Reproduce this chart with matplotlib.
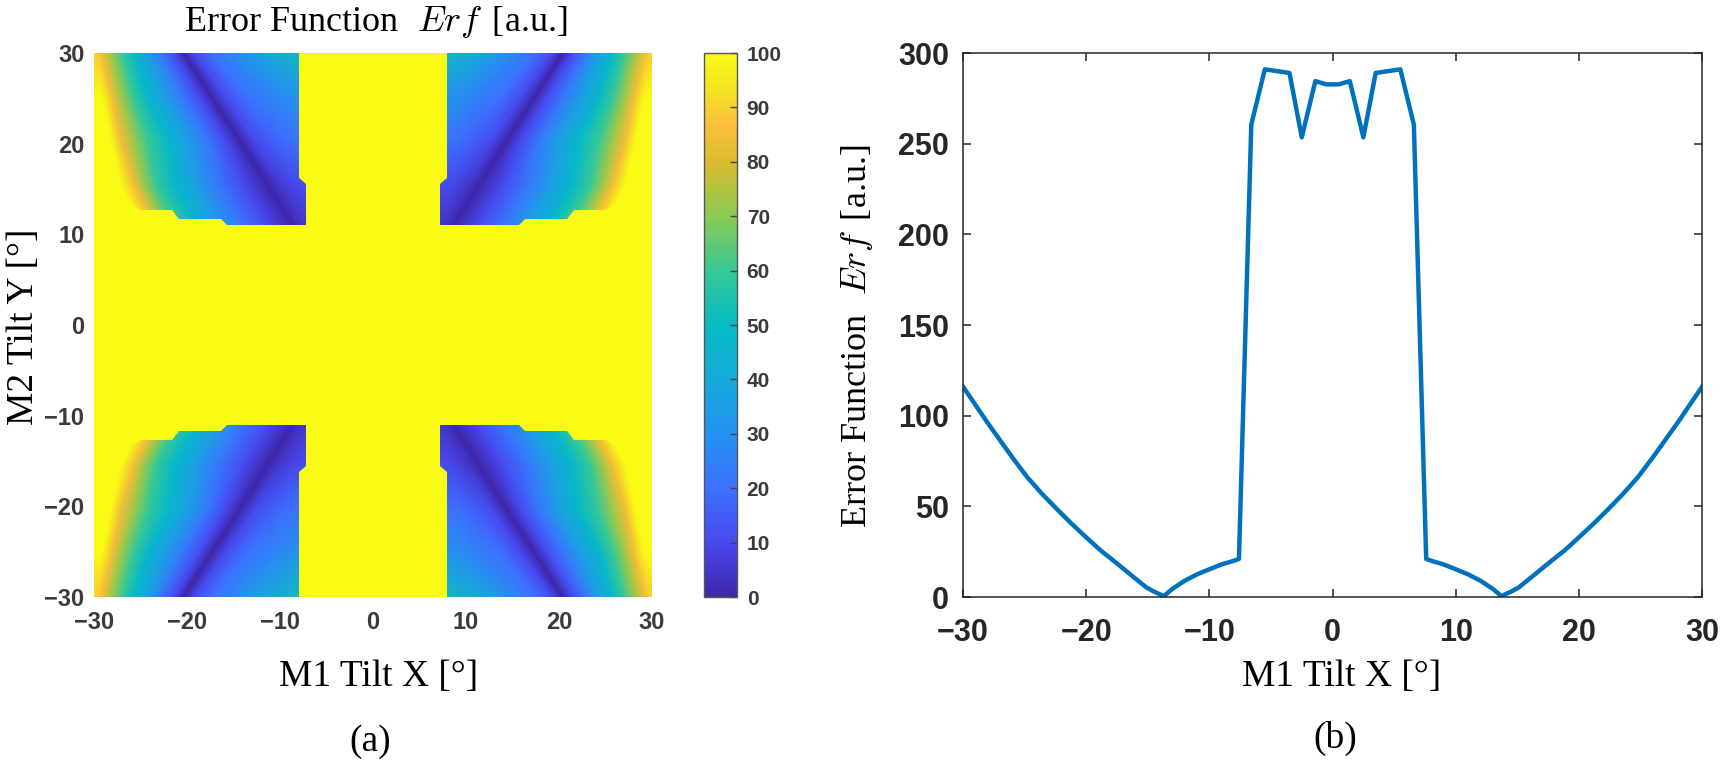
import numpy as np
import matplotlib
matplotlib.use('Agg')
import matplotlib.pyplot as plt
from matplotlib.colors import LinearSegmentedColormap, Normalize
from matplotlib.patches import Polygon
from matplotlib.cm import ScalarMappable

plt.rcParams['font.family'] = ['Liberation Serif', 'DejaVu Serif']
plt.rcParams['mathtext.fontset'] = 'cm'

# parula-like colormap (MATLAB default)
parula_pos = [0.0, 0.1, 0.2, 0.3, 0.4, 0.5, 0.6, 0.7, 0.8, 0.87, 0.93, 1.0]
parula_rgb = [(0.2422, 0.1504, 0.6603), (0.2780, 0.2900, 0.9400), (0.2400, 0.4400, 0.9950),
              (0.1400, 0.5750, 0.9400), (0.0800, 0.6700, 0.8500), (0.0200, 0.7350, 0.7700),
              (0.2200, 0.7850, 0.5900), (0.5400, 0.7950, 0.3300), (0.8500, 0.7400, 0.1800),
              (0.9950, 0.7450, 0.2350), (0.9600, 0.8800, 0.1500), (0.9769, 0.9839, 0.0805)]
parula = LinearSegmentedColormap.from_list('parula', list(zip(parula_pos, parula_rgb)))

# (a) Erf map, top-left quadrant read row by row (the other three are mirror images)
row_y = [30, 25, 20.4, 15.5, 11]
row_x = [
    [-30, -29.6, -29.2, -28.1, -27.0, -25.7, -24.2, -22.8, -21.4, -20.4, -19.25, -17.45, -12.8, -7.0],
    [-30, -29.1, -28.05, -27.0, -25.75, -24.3, -22.35, -20.35, -18.55, -17.3, -15.9, -13.7, -10.0, -7.0],
    [-30, -28.2, -27.15, -25.7, -24.25, -22.1, -19.95, -17.8, -15.85, -14.4, -12.8, -11.15, -9.65, -7.0],
    [-30, -27.15, -25.75, -24.65, -23.4, -21.45, -19.1, -16.6, -13.9, -11.4, -10.35, -9.55, -8.75, -7.0],
    [-30, -25.0, -23.6, -22.5, -21.2, -19.2, -16.8, -14.2, -11.3, -8.6, -8.1, -7.8, -7.45, -7.0],
]
row_erf = [
    [90, 88, 85, 72, 60, 48, 35, 22, 10, 0, 10, 20, 35, 52],
    [103, 100, 85, 72, 60, 48, 35, 22, 10, 0, 10, 20, 27, 32],
    [115, 100, 85, 72, 60, 48, 35, 22, 10, 0, 10, 15, 19, 22],
    [125, 100, 85, 72, 60, 48, 35, 22, 10, 0, 5, 7, 9, 11],
    [130, 100, 85, 72, 60, 48, 35, 22, 10, 0, 2.5, 3.5, 4.5, 5],
]
# edge of the valid (non-saturated) region in the top-left quadrant
edge_x = [-30, -7.96, -7.96, -7.2, -7.2, -15.66, -16.38, -20.86, -21.58, -24.98, -26.24, -30]
edge_y = [30, 30, 16.2, 15.6, 11.03, 11.03, 11.69, 11.69, 12.68, 12.68, 13.42, 13.42]

# (b) Erf along M1 tilt X
tilt_x = [-30, -29, -28, -27.2, -26, -24.8, -23.6, -22.4, -21.2, -20, -18.8, -17.5, -16.3, -15.1,
          -14.5, -13.7, -13, -12, -11, -10, -9, -8, -7.6, -6.6, -5.5, -3.5, -2.5, -1.4, -0.5,
          0.5, 1.4, 2.5, 3.5, 5.5, 6.6, 7.6, 8, 9, 10, 11, 12, 13, 13.7, 14.5,
          15.1, 16.3, 17.5, 18.8, 20, 21.2, 22.4, 23.6, 24.8, 26, 27.2, 28, 29, 30]
erf_b = [116, 106, 96, 88.4, 77, 66.2, 57, 48.6, 40.5, 32.9, 25.5, 18.5, 11.8, 5.2,
         3, 0.5, 4.5, 9, 12.5, 15.3, 18, 20, 21, 260.5, 291, 289, 253.5, 284.5, 282.7,
         282.7, 284.5, 253.5, 289, 291, 260.5, 21, 20, 18, 15.3, 12.5, 9, 4.5, 0.5, 3,
         5.2, 11.8, 18.5, 25.5, 32.9, 40.5, 48.6, 57, 66.2, 77, 88.4, 96, 106, 116]

erf_label = r'Error Function $\,\,Erf\;\,$[a.u.]'

fig = plt.figure(figsize=(17.2, 7.65), dpi=100)

# ---- (a) ----
ax1 = fig.add_axes([0.0547, 0.2196, 0.3244, 0.7111])
ax1.set_facecolor(parula(1.0))
X = np.array(row_x, dtype=float)
Y = np.repeat(np.array(row_y, dtype=float)[:, None], X.shape[1], axis=1)
C = np.array(row_erf, dtype=float)
for sx in (1, -1):
    for sy in (1, -1):
        m = ax1.pcolormesh(sx * X, sy * Y, C, shading='gouraud', cmap=parula, vmin=0, vmax=100)
        clip = Polygon(np.column_stack([sx * np.array(edge_x), sy * np.array(edge_y)]),
                       closed=True, transform=ax1.transData)
        m.set_clip_path(clip)
ax1.set_xlim(-30, 30)
ax1.set_ylim(-30, 30)
ax1.set_xticks(range(-30, 31, 10))
ax1.set_yticks(range(-30, 31, 10))
for s in ax1.spines.values():
    s.set_visible(False)
ax1.tick_params(length=0, labelsize=17, labelcolor='#3a3a3a', pad=7)
ax1.tick_params(axis='x', pad=10)
for lab in ax1.get_xticklabels() + ax1.get_yticklabels():
    lab.set_fontfamily('Liberation Sans')
    lab.set_fontweight('bold')

fig.text(0.2186, 0.971, erf_label, fontsize=26, ha='center', va='center')
fig.text(0.2203, 0.115, 'M1 Tilt X [°]', fontsize=27, ha='center', va='center')
fig.text(0.014, 0.573, 'M2 Tilt Y [°]', fontsize=27, ha='center', va='center', rotation=90)
fig.text(0.2151, 0.030, '(a)', fontsize=27, ha='center', va='center')

cax = fig.add_axes([0.4093, 0.2196, 0.0192, 0.7111])
cb = fig.colorbar(ScalarMappable(norm=Normalize(0, 100), cmap=parula), cax=cax)
cb.set_ticks(range(0, 101, 10))
cb.outline.set_edgecolor('#555555')
cb.outline.set_linewidth(1.0)
cax.tick_params(direction='in', length=5, width=1, color='#444444', labelsize=15,
                labelcolor='#3a3a3a', pad=7)
for lab in cax.get_yticklabels():
    lab.set_fontfamily('Liberation Sans')
    lab.set_fontweight('bold')

# ---- (b) ----
ax2 = fig.add_axes([0.5599, 0.2196, 0.4297, 0.7111])
ax2.plot(tilt_x, erf_b, color='#0072BD', lw=3.2)
ax2.set_xlim(-30, 30)
ax2.set_ylim(0, 300)
ax2.set_xticks(range(-30, 31, 10))
ax2.set_yticks(range(0, 301, 50))
for s in ax2.spines.values():
    s.set_color('#262626')
    s.set_linewidth(1.1)
ax2.tick_params(direction='in', length=6, width=1.1, color='#262626', top=True, right=True,
                labelsize=22, labelcolor='#262626')
ax2.tick_params(axis='y', pad=10)
ax2.tick_params(axis='x', pad=15)
for lab in ax2.get_xticklabels() + ax2.get_yticklabels():
    lab.set_fontfamily('Liberation Sans')
    lab.set_fontweight('bold')

fig.text(0.4983, 0.56, erf_label, fontsize=26, ha='center', va='center', rotation=90)
fig.text(0.7797, 0.115, 'M1 Tilt X [°]', fontsize=27, ha='center', va='center')
fig.text(0.7762, 0.035, '(b)', fontsize=27, ha='center', va='center')

fig.savefig('out.png', dpi=100)
